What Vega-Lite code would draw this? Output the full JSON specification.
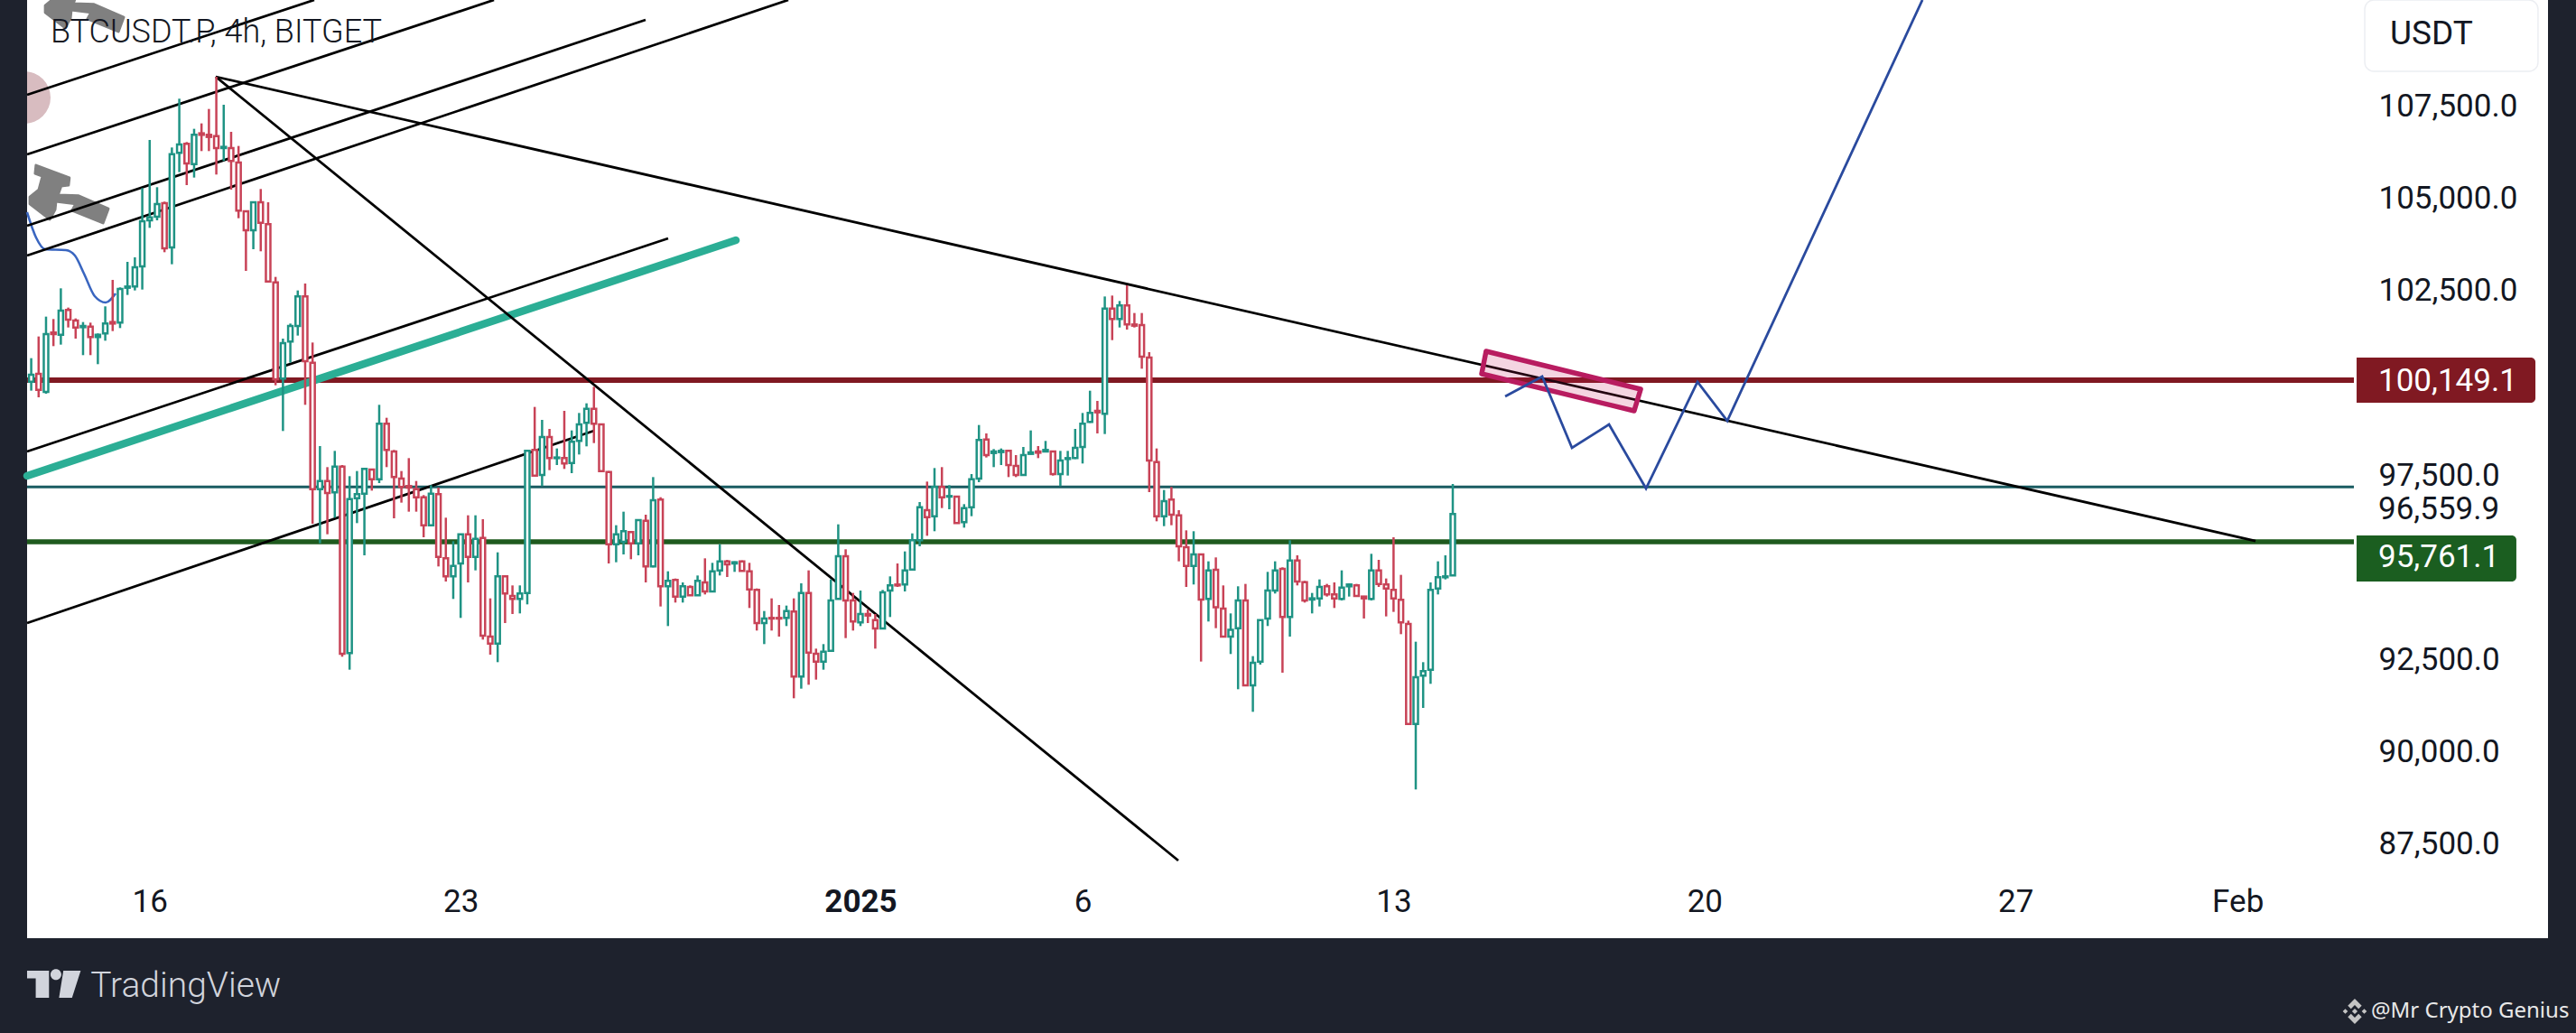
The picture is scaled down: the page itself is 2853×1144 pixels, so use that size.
{
  "$schema": "https://vega.github.io/schema/vega-lite/v6.json",
  "description": "BTCUSDT.P 4h candles with drawn trend lines",
  "width": 2792,
  "height": 1039,
  "autosize": {"type": "none"},
  "padding": {"left": 30, "top": 0, "right": 31, "bottom": 105},
  "background": "#1e222d",
  "view": {"fill": "#ffffff", "stroke": null},
  "datasets": {
    "candles": [
      {"t":"2024-12-13T08:00Z","o":99994,"h":100630,"l":99749,"c":100181},
      {"t":"2024-12-13T12:00Z","o":100206,"h":101218,"l":99569,"c":99773},
      {"t":"2024-12-13T16:00Z","o":99716,"h":101756,"l":99667,"c":101283},
      {"t":"2024-12-13T20:00Z","o":101324,"h":101691,"l":100956,"c":101283},
      {"t":"2024-12-14T00:00Z","o":101266,"h":102523,"l":100997,"c":101919},
      {"t":"2024-12-14T04:00Z","o":101936,"h":102001,"l":101462,"c":101674},
      {"t":"2024-12-14T08:00Z","o":101650,"h":101707,"l":101160,"c":101462},
      {"t":"2024-12-14T12:00Z","o":101470,"h":101609,"l":100712,"c":101503},
      {"t":"2024-12-14T16:00Z","o":101487,"h":101593,"l":100712,"c":101201},
      {"t":"2024-12-14T20:00Z","o":101201,"h":101299,"l":100467,"c":101266},
      {"t":"2024-12-15T00:00Z","o":101299,"h":102034,"l":101103,"c":101568},
      {"t":"2024-12-15T04:00Z","o":101609,"h":102752,"l":101364,"c":101568},
      {"t":"2024-12-15T08:00Z","o":101593,"h":102548,"l":101446,"c":102507},
      {"t":"2024-12-15T12:00Z","o":102539,"h":103241,"l":102344,"c":102572},
      {"t":"2024-12-15T16:00Z","o":102572,"h":103364,"l":102466,"c":103094},
      {"t":"2024-12-15T20:00Z","o":103119,"h":105240,"l":102490,"c":104343},
      {"t":"2024-12-16T00:00Z","o":104367,"h":106546,"l":104163,"c":104449},
      {"t":"2024-12-16T04:00Z","o":104465,"h":105265,"l":104367,"c":104808},
      {"t":"2024-12-16T08:00Z","o":104832,"h":104873,"l":103502,"c":103608},
      {"t":"2024-12-16T12:00Z","o":103633,"h":106342,"l":103176,"c":106162},
      {"t":"2024-12-16T16:00Z","o":106195,"h":107664,"l":105673,"c":106424},
      {"t":"2024-12-16T20:00Z","o":106440,"h":106489,"l":105322,"c":105910},
      {"t":"2024-12-17T00:00Z","o":105893,"h":106848,"l":105526,"c":106685},
      {"t":"2024-12-17T04:00Z","o":106726,"h":106995,"l":106244,"c":106685},
      {"t":"2024-12-17T08:00Z","o":106685,"h":107386,"l":106244,"c":106628},
      {"t":"2024-12-17T12:00Z","o":106652,"h":108260,"l":105608,"c":106326},
      {"t":"2024-12-17T16:00Z","o":106326,"h":107501,"l":105975,"c":106358},
      {"t":"2024-12-17T20:00Z","o":106326,"h":106766,"l":105200,"c":105975},
      {"t":"2024-12-18T00:00Z","o":105934,"h":106383,"l":104424,"c":104628},
      {"t":"2024-12-18T04:00Z","o":104612,"h":104628,"l":102996,"c":104098},
      {"t":"2024-12-18T08:00Z","o":104098,"h":104873,"l":103584,"c":104857},
      {"t":"2024-12-18T12:00Z","o":104857,"h":105216,"l":103527,"c":104302},
      {"t":"2024-12-18T16:00Z","o":104261,"h":104857,"l":102711,"c":102711},
      {"t":"2024-12-18T20:00Z","o":102686,"h":102833,"l":99895,"c":100059},
      {"t":"2024-12-19T00:00Z","o":100075,"h":101160,"l":98655,"c":101038},
      {"t":"2024-12-19T04:00Z","o":101079,"h":101568,"l":100508,"c":101503},
      {"t":"2024-12-19T08:00Z","o":101503,"h":102466,"l":101242,"c":102303},
      {"t":"2024-12-19T12:00Z","o":102303,"h":102654,"l":99365,"c":100548},
      {"t":"2024-12-19T16:00Z","o":100507,"h":101054,"l":96142,"c":97080},
      {"t":"2024-12-19T20:00Z","o":97080,"h":98247,"l":95611,"c":97300},
      {"t":"2024-12-20T00:00Z","o":97300,"h":97676,"l":95856,"c":96974},
      {"t":"2024-12-20T04:00Z","o":96990,"h":98116,"l":96305,"c":97692},
      {"t":"2024-12-20T08:00Z","o":97692,"h":97733,"l":92535,"c":92616},
      {"t":"2024-12-20T12:00Z","o":92633,"h":97431,"l":92184,"c":96811},
      {"t":"2024-12-20T16:00Z","o":96835,"h":97570,"l":96158,"c":96941},
      {"t":"2024-12-20T20:00Z","o":96958,"h":97651,"l":95285,"c":97627},
      {"t":"2024-12-21T00:00Z","o":97610,"h":97627,"l":97039,"c":97349},
      {"t":"2024-12-21T04:00Z","o":97349,"h":99365,"l":97243,"c":98851},
      {"t":"2024-12-21T08:00Z","o":98851,"h":99014,"l":97676,"c":98141},
      {"t":"2024-12-21T12:00Z","o":98100,"h":98141,"l":96288,"c":97406},
      {"t":"2024-12-21T16:00Z","o":97366,"h":97570,"l":96713,"c":97137},
      {"t":"2024-12-21T20:00Z","o":97162,"h":97920,"l":96468,"c":97121},
      {"t":"2024-12-22T00:00Z","o":97080,"h":97300,"l":96468,"c":96860},
      {"t":"2024-12-22T04:00Z","o":96860,"h":96917,"l":95774,"c":96101},
      {"t":"2024-12-22T08:00Z","o":96101,"h":97186,"l":96101,"c":96958},
      {"t":"2024-12-22T12:00Z","o":96941,"h":97121,"l":94983,"c":95244},
      {"t":"2024-12-22T16:00Z","o":95203,"h":96305,"l":94575,"c":94714},
      {"t":"2024-12-22T20:00Z","o":94714,"h":95668,"l":94102,"c":94999},
      {"t":"2024-12-23T00:00Z","o":95064,"h":95856,"l":93588,"c":95856},
      {"t":"2024-12-23T04:00Z","o":95856,"h":96370,"l":94550,"c":95244},
      {"t":"2024-12-23T08:00Z","o":95244,"h":96370,"l":94877,"c":95734},
      {"t":"2024-12-23T12:00Z","o":95758,"h":96264,"l":93000,"c":93106},
      {"t":"2024-12-23T16:00Z","o":93082,"h":94118,"l":92592,"c":92894},
      {"t":"2024-12-23T20:00Z","o":92894,"h":95366,"l":92388,"c":94714},
      {"t":"2024-12-24T00:00Z","o":94714,"h":94714,"l":93449,"c":94248},
      {"t":"2024-12-24T04:00Z","o":94183,"h":94469,"l":93694,"c":94102},
      {"t":"2024-12-24T08:00Z","o":94102,"h":94469,"l":93710,"c":94248},
      {"t":"2024-12-24T12:00Z","o":94265,"h":98141,"l":93955,"c":98116},
      {"t":"2024-12-24T16:00Z","o":98141,"h":99308,"l":97447,"c":97447},
      {"t":"2024-12-24T20:00Z","o":97464,"h":98957,"l":97162,"c":98492},
      {"t":"2024-12-25T00:00Z","o":98492,"h":98712,"l":97594,"c":97920},
      {"t":"2024-12-25T04:00Z","o":97920,"h":98182,"l":97733,"c":97937},
      {"t":"2024-12-25T08:00Z","o":97920,"h":99202,"l":97627,"c":97774},
      {"t":"2024-12-25T12:00Z","o":97790,"h":98671,"l":97512,"c":98361},
      {"t":"2024-12-25T16:00Z","o":98386,"h":99144,"l":98018,"c":98834},
      {"t":"2024-12-25T20:00Z","o":98875,"h":99406,"l":98239,"c":99259},
      {"t":"2024-12-26T00:00Z","o":99259,"h":99854,"l":98328,"c":98851},
      {"t":"2024-12-26T04:00Z","o":98834,"h":98834,"l":97570,"c":97570},
      {"t":"2024-12-26T08:00Z","o":97545,"h":97570,"l":95064,"c":95587},
      {"t":"2024-12-26T12:00Z","o":95587,"h":96101,"l":95097,"c":95856},
      {"t":"2024-12-26T16:00Z","o":95652,"h":96468,"l":95309,"c":95938},
      {"t":"2024-12-26T20:00Z","o":95913,"h":95938,"l":95179,"c":95611},
      {"t":"2024-12-27T00:00Z","o":95611,"h":96264,"l":95285,"c":96240},
      {"t":"2024-12-27T04:00Z","o":96223,"h":96386,"l":94550,"c":94983},
      {"t":"2024-12-27T08:00Z","o":94983,"h":97406,"l":94958,"c":96778},
      {"t":"2024-12-27T12:00Z","o":96794,"h":96860,"l":93898,"c":94444},
      {"t":"2024-12-27T16:00Z","o":94444,"h":94852,"l":93367,"c":94591},
      {"t":"2024-12-27T20:00Z","o":94616,"h":94656,"l":94004,"c":94167},
      {"t":"2024-12-28T00:00Z","o":94167,"h":94550,"l":94004,"c":94444},
      {"t":"2024-12-28T04:00Z","o":94428,"h":94469,"l":94183,"c":94200},
      {"t":"2024-12-28T08:00Z","o":94200,"h":94738,"l":94183,"c":94591},
      {"t":"2024-12-28T12:00Z","o":94550,"h":95203,"l":94224,"c":94306},
      {"t":"2024-12-28T16:00Z","o":94306,"h":95081,"l":94281,"c":94852},
      {"t":"2024-12-28T20:00Z","o":94877,"h":95587,"l":94738,"c":95122},
      {"t":"2024-12-29T00:00Z","o":95122,"h":95162,"l":94697,"c":95040},
      {"t":"2024-12-29T04:00Z","o":95064,"h":95122,"l":94836,"c":95097},
      {"t":"2024-12-29T08:00Z","o":95122,"h":95146,"l":94852,"c":94860},
      {"t":"2024-12-29T12:00Z","o":94852,"h":95081,"l":93857,"c":94363},
      {"t":"2024-12-29T16:00Z","o":94346,"h":94387,"l":93245,"c":93449},
      {"t":"2024-12-29T20:00Z","o":93449,"h":93775,"l":92878,"c":93571},
      {"t":"2024-12-30T00:00Z","o":93588,"h":94118,"l":93245,"c":93571},
      {"t":"2024-12-30T04:00Z","o":93588,"h":93938,"l":93082,"c":93571},
      {"t":"2024-12-30T08:00Z","o":93588,"h":93922,"l":93367,"c":93775},
      {"t":"2024-12-30T12:00Z","o":93759,"h":94118,"l":91409,"c":91996},
      {"t":"2024-12-30T16:00Z","o":91996,"h":94526,"l":91670,"c":94265},
      {"t":"2024-12-30T20:00Z","o":94265,"h":94877,"l":91776,"c":92649},
      {"t":"2024-12-31T00:00Z","o":92616,"h":92755,"l":91915,"c":92404},
      {"t":"2024-12-31T04:00Z","o":92404,"h":92878,"l":92184,"c":92673},
      {"t":"2024-12-31T08:00Z","o":92698,"h":94632,"l":92673,"c":94061},
      {"t":"2024-12-31T12:00Z","o":94102,"h":96125,"l":94085,"c":95260},
      {"t":"2024-12-31T16:00Z","o":95260,"h":95448,"l":93041,"c":94061},
      {"t":"2024-12-31T20:00Z","o":94061,"h":94265,"l":93245,"c":93490},
      {"t":"2025-01-01T00:00Z","o":93465,"h":94330,"l":93367,"c":93694},
      {"t":"2025-01-01T04:00Z","o":93694,"h":93816,"l":93449,"c":93653},
      {"t":"2025-01-01T08:00Z","o":93530,"h":93694,"l":92755,"c":93302},
      {"t":"2025-01-01T12:00Z","o":93302,"h":94346,"l":93302,"c":94281},
      {"t":"2025-01-01T16:00Z","o":94330,"h":94714,"l":93612,"c":94469},
      {"t":"2025-01-01T20:00Z","o":94493,"h":95064,"l":94428,"c":94469},
      {"t":"2025-01-02T00:00Z","o":94493,"h":95391,"l":94306,"c":94877},
      {"t":"2025-01-02T04:00Z","o":94901,"h":95880,"l":94901,"c":95693},
      {"t":"2025-01-02T08:00Z","o":95693,"h":96729,"l":95530,"c":96590},
      {"t":"2025-01-02T12:00Z","o":96509,"h":97284,"l":95815,"c":96321},
      {"t":"2025-01-02T16:00Z","o":96346,"h":97651,"l":95938,"c":97137},
      {"t":"2025-01-02T20:00Z","o":97137,"h":97676,"l":96566,"c":96860},
      {"t":"2025-01-03T00:00Z","o":96876,"h":97186,"l":96533,"c":96892},
      {"t":"2025-01-03T04:00Z","o":96876,"h":96892,"l":96142,"c":96158},
      {"t":"2025-01-03T08:00Z","o":96182,"h":96672,"l":96035,"c":96566},
      {"t":"2025-01-03T12:00Z","o":96590,"h":97488,"l":96346,"c":97349},
      {"t":"2025-01-03T16:00Z","o":97366,"h":98818,"l":97268,"c":98410},
      {"t":"2025-01-03T20:00Z","o":98426,"h":98590,"l":97937,"c":98002},
      {"t":"2025-01-04T00:00Z","o":98059,"h":98165,"l":97676,"c":98100},
      {"t":"2025-01-04T04:00Z","o":98084,"h":98182,"l":97733,"c":98116},
      {"t":"2025-01-04T08:00Z","o":98116,"h":98141,"l":97406,"c":97733},
      {"t":"2025-01-04T12:00Z","o":97708,"h":98002,"l":97406,"c":97464},
      {"t":"2025-01-04T16:00Z","o":97464,"h":98222,"l":97447,"c":98002},
      {"t":"2025-01-04T20:00Z","o":98035,"h":98671,"l":98018,"c":98075},
      {"t":"2025-01-05T00:00Z","o":98100,"h":98247,"l":97920,"c":98067},
      {"t":"2025-01-05T04:00Z","o":98100,"h":98386,"l":98100,"c":98141},
      {"t":"2025-01-05T08:00Z","o":98100,"h":98116,"l":97447,"c":97488},
      {"t":"2025-01-05T12:00Z","o":97488,"h":98116,"l":97162,"c":97855},
      {"t":"2025-01-05T16:00Z","o":97896,"h":98116,"l":97447,"c":97920},
      {"t":"2025-01-05T20:00Z","o":97920,"h":98712,"l":97896,"c":98198},
      {"t":"2025-01-06T00:00Z","o":98222,"h":99144,"l":97774,"c":98851},
      {"t":"2025-01-06T04:00Z","o":98900,"h":99748,"l":98875,"c":99144},
      {"t":"2025-01-06T08:00Z","o":99202,"h":99471,"l":98590,"c":99161},
      {"t":"2025-01-06T12:00Z","o":99120,"h":102302,"l":98573,"c":101976},
      {"t":"2025-01-06T16:00Z","o":101976,"h":102327,"l":101119,"c":101690},
      {"t":"2025-01-06T20:00Z","o":101690,"h":102180,"l":101462,"c":102058},
      {"t":"2025-01-07T00:00Z","o":102058,"h":102604,"l":101405,"c":101543},
      {"t":"2025-01-07T04:00Z","o":101543,"h":101854,"l":101462,"c":101511},
      {"t":"2025-01-07T08:00Z","o":101527,"h":101854,"l":100344,"c":100670},
      {"t":"2025-01-07T12:00Z","o":100646,"h":100793,"l":96998,"c":97855},
      {"t":"2025-01-07T16:00Z","o":97814,"h":98182,"l":96207,"c":96346},
      {"t":"2025-01-07T20:00Z","o":96346,"h":97056,"l":96076,"c":96754},
      {"t":"2025-01-08T00:00Z","o":96795,"h":97138,"l":96101,"c":96387},
      {"t":"2025-01-08T04:00Z","o":96370,"h":96509,"l":95122,"c":95530},
      {"t":"2025-01-08T08:00Z","o":95506,"h":95962,"l":94428,"c":95000},
      {"t":"2025-01-08T12:00Z","o":95000,"h":95938,"l":94494,"c":95310},
      {"t":"2025-01-08T16:00Z","o":95310,"h":95326,"l":92405,"c":94086},
      {"t":"2025-01-08T20:00Z","o":94102,"h":95122,"l":93490,"c":94877},
      {"t":"2025-01-09T00:00Z","o":94893,"h":95228,"l":93310,"c":93874},
      {"t":"2025-01-09T04:00Z","o":93841,"h":94469,"l":93082,"c":93082},
      {"t":"2025-01-09T08:00Z","o":93082,"h":93710,"l":92609,"c":93262},
      {"t":"2025-01-09T12:00Z","o":93310,"h":94445,"l":91654,"c":94061},
      {"t":"2025-01-09T16:00Z","o":94061,"h":94510,"l":91760,"c":91760},
      {"t":"2025-01-09T20:00Z","o":91760,"h":92552,"l":91042,"c":92372},
      {"t":"2025-01-10T00:00Z","o":92405,"h":93547,"l":92323,"c":93531},
      {"t":"2025-01-10T04:00Z","o":93572,"h":94836,"l":93368,"c":94330},
      {"t":"2025-01-10T08:00Z","o":94330,"h":95122,"l":94249,"c":94877},
      {"t":"2025-01-10T12:00Z","o":94918,"h":94959,"l":92103,"c":93612},
      {"t":"2025-01-10T16:00Z","o":93612,"h":95693,"l":93082,"c":95146},
      {"t":"2025-01-10T20:00Z","o":95146,"h":95285,"l":94469,"c":94575},
      {"t":"2025-01-11T00:00Z","o":94559,"h":94592,"l":94004,"c":94061},
      {"t":"2025-01-11T04:00Z","o":94086,"h":94265,"l":93710,"c":94118},
      {"t":"2025-01-11T08:00Z","o":94118,"h":94632,"l":93898,"c":94428},
      {"t":"2025-01-11T12:00Z","o":94445,"h":94510,"l":94167,"c":94224},
      {"t":"2025-01-11T16:00Z","o":94224,"h":94551,"l":93857,"c":94118},
      {"t":"2025-01-11T20:00Z","o":94102,"h":94877,"l":94061,"c":94412},
      {"t":"2025-01-12T00:00Z","o":94445,"h":94526,"l":94167,"c":94494},
      {"t":"2025-01-12T04:00Z","o":94469,"h":94510,"l":94167,"c":94184},
      {"t":"2025-01-12T08:00Z","o":94167,"h":94184,"l":93572,"c":94118},
      {"t":"2025-01-12T12:00Z","o":94102,"h":95326,"l":94061,"c":94877},
      {"t":"2025-01-12T16:00Z","o":94877,"h":95163,"l":94428,"c":94510},
      {"t":"2025-01-12T20:00Z","o":94494,"h":94657,"l":93629,"c":94388},
      {"t":"2025-01-13T00:00Z","o":94347,"h":95775,"l":93751,"c":94118},
      {"t":"2025-01-13T04:00Z","o":94077,"h":94755,"l":93147,"c":93465},
      {"t":"2025-01-13T08:00Z","o":93425,"h":93514,"l":90716,"c":90716},
      {"t":"2025-01-13T12:00Z","o":90716,"h":92943,"l":88937,"c":91980},
      {"t":"2025-01-13T16:00Z","o":92021,"h":92388,"l":91148,"c":92144},
      {"t":"2025-01-13T20:00Z","o":92184,"h":94551,"l":91801,"c":94347},
      {"t":"2025-01-14T00:00Z","o":94388,"h":95122,"l":94224,"c":94690},
      {"t":"2025-01-14T04:00Z","o":94690,"h":95285,"l":94632,"c":94714},
      {"t":"2025-01-14T08:00Z","o":94738,"h":97219,"l":94738,"c":96403}
    ]
  },
  "encoding": {
    "x": {
      "field": "t",
      "type": "temporal",
      "scale": {"type": "utc", "nice": false, "padding": 0, "domain": ["2024-12-13T05:46:00Z", "2025-02-07T23:42:00Z"]},
      "axis": {
        "orient": "bottom",
        "title": null,
        "domain": false,
        "ticks": false,
        "grid": false,
        "values": [
          {"year": 2024, "month": 12, "date": 16, "utc": true},
          {"year": 2024, "month": 12, "date": 23, "utc": true},
          {"year": 2025, "month": 1, "date": 1, "utc": true},
          {"year": 2025, "month": 1, "date": 6, "utc": true},
          {"year": 2025, "month": 1, "date": 13, "utc": true},
          {"year": 2025, "month": 1, "date": 20, "utc": true},
          {"year": 2025, "month": 1, "date": 27, "utc": true},
          {"year": 2025, "month": 2, "date": 1, "utc": true}
        ],
        "labelExpr": "utcmonth(datum.value)==0&&utcdate(datum.value)==1?'2025':utcmonth(datum.value)==1?'Feb':''+utcdate(datum.value)",
        "labelFontWeight": {"condition": {"test": "utcmonth(datum.value)==0&&utcdate(datum.value)==1", "value": "bold"}, "value": "normal"},
        "labelPadding": -41,
        "labelBaseline": "middle",
        "labelFont": "Roboto",
        "labelFontSize": 35,
        "labelColor": "#131722",
        "labelFlush": false,
        "labelOverlap": false,
        "labelBound": false
      }
    },
    "y": {
      "field": "p",
      "type": "quantitative",
      "scale": {"domain": [84905, 110340], "nice": false, "zero": false},
      "axis": {
        "orient": "right",
        "title": null,
        "domain": false,
        "ticks": false,
        "grid": false,
        "values": [87500, 90000, 92500, 97500, 102500, 105000, 107500],
        "format": ",.1f",
        "labelAlign": "left",
        "labelBaseline": "middle",
        "labelPadding": -188,
        "labelOffset": 1.5,
        "labelFont": "Roboto",
        "labelFontSize": 35,
        "labelColor": "#131722",
        "labelOverlap": false,
        "labelBound": false,
        "labelFlush": false
      }
    }
  },
  "layer": [
    {
      "data": {"values": [{"t": "2024-12-13T04:18Z", "p": 107696}]},
      "mark": {"type": "point", "shape": "circle", "filled": true, "size": 3364, "color": "#d8bcc0", "opacity": 1, "clip": true}
    },
    {
      "data": {"values": [{"t": "2024-12-14T03:42Z", "p": 105077}, {"t": "2024-12-14T12:00Z", "p": 110267}]},
      "mark": {
        "type": "point",
        "shape": "M-.78,-.71L.04,-.4L.02,-.22L-.16,-.2L-.24,.02L.27,.04L1,.36L.87,.71L.11,.4L.2,.24L-.29,.18L-.31,.38L-.44,.62L-.93,.24L-.93,.07L-.71,-.11L-.62,-.44L-.8,-.51Z",
        "filled": true,
        "size": 8100,
        "color": "#808080",
        "stroke": "#808080",
        "strokeWidth": 3,
        "strokeJoin": "round",
        "opacity": 1,
        "clip": true
      }
    },
    {
      "data": {"values": [
        {"t": "2024-12-13T05:46Z", "p": 104587},
        {"t": "2024-12-13T10:36Z", "p": 103902},
        {"t": "2024-12-13T15:30Z", "p": 103584},
        {"t": "2024-12-14T02:42Z", "p": 103559},
        {"t": "2024-12-14T07:36Z", "p": 103412},
        {"t": "2024-12-14T12:30Z", "p": 102923},
        {"t": "2024-12-14T18:18Z", "p": 102311},
        {"t": "2024-12-15T00:12Z", "p": 102139},
        {"t": "2024-12-15T05:36Z", "p": 102384}
      ]},
      "mark": {"type": "line", "interpolate": "monotone", "color": "#3a66c0", "strokeWidth": 2.6}
    },
    {
      "data": {"values": [
        {"name": "red", "t": "2024-12-13T05:46Z", "p": 100034},
        {"name": "red", "t": "2025-02-03T14:50Z", "p": 100034},
        {"name": "teal", "t": "2024-12-13T05:46Z", "p": 97138},
        {"name": "teal", "t": "2025-02-03T14:50Z", "p": 97138},
        {"name": "green", "t": "2024-12-13T05:46Z", "p": 95652},
        {"name": "green", "t": "2025-02-03T14:50Z", "p": 95652}
      ]},
      "mark": {"type": "line"},
      "encoding": {
        "color": {"field": "name", "type": "nominal", "legend": null, "scale": {"domain": ["red", "teal", "green"], "range": ["#801922", "#1a5c62", "#1f5a1e"]}},
        "strokeWidth": {"field": "name", "type": "nominal", "legend": null, "scale": {"type": "ordinal", "domain": ["red", "teal", "green"], "range": [6, 3, 5.5]}}
      }
    },
    {
      "data": {"values": [
        {"t": "2024-12-13T05:46Z", "p": 97439},
        {"t": "2024-12-29T04:42Z", "p": 103828}
      ]},
      "mark": {"type": "line", "color": "#2bae95", "strokeWidth": 8.5, "strokeCap": "round"}
    },
    {
      "data": {"values": [
        {"id": "a", "t": "2024-12-13T05:46Z", "p": 107770},
        {"id": "a", "t": "2024-12-19T16:54Z", "p": 110340},
        {"id": "b", "t": "2024-12-13T05:46Z", "p": 106154},
        {"id": "b", "t": "2024-12-23T18:00Z", "p": 110340},
        {"id": "c", "t": "2024-12-13T05:46Z", "p": 104220},
        {"id": "c", "t": "2024-12-27T03:54Z", "p": 109801},
        {"id": "d", "t": "2024-12-13T05:46Z", "p": 103412},
        {"id": "d", "t": "2024-12-30T09:00Z", "p": 110340},
        {"id": "e", "t": "2024-12-13T05:46Z", "p": 98100},
        {"id": "e", "t": "2024-12-27T16:06Z", "p": 103877},
        {"id": "f", "t": "2024-12-13T05:46Z", "p": 93449},
        {"id": "f", "t": "2024-12-26T00:06Z", "p": 98663},
        {"id": "g", "t": "2024-12-17T11:42Z", "p": 108259},
        {"id": "g", "t": "2025-02-01T09:42Z", "p": 95676},
        {"id": "h", "t": "2024-12-17T11:42Z", "p": 108259},
        {"id": "h", "t": "2025-01-08T03:42Z", "p": 87011}
      ]},
      "mark": {"type": "line", "color": "#000000", "strokeWidth": 2.8},
      "encoding": {"detail": {"field": "id"}}
    },
    {
      "data": {"name": "candles"},
      "mark": {"type": "rule", "strokeWidth": 2.5},
      "encoding": {
        "y": {"field": "h", "type": "quantitative", "title": null, "scale": {"domain": [84905, 110340], "nice": false, "zero": false}},
        "y2": {"field": "l"},
        "stroke": {"condition": {"test": "datum.c>=datum.o", "value": "#1f9384"}, "value": "#c84357"}
      }
    },
    {
      "data": {"name": "candles"},
      "mark": {"type": "bar", "size": 5, "fill": "#ffffff", "strokeWidth": 2.5},
      "encoding": {
        "y": {"field": "o", "type": "quantitative", "title": null, "scale": {"domain": [84905, 110340], "nice": false, "zero": false}},
        "y2": {"field": "c"},
        "stroke": {"condition": {"test": "datum.c>=datum.o", "value": "#1f9384"}, "value": "#c84357"}
      }
    },
    {
      "data": {"values": [
        {"t": "2025-01-15T00:48Z", "p": 100511},
        {"t": "2025-01-18T11:48Z", "p": 99495}
      ]},
      "mark": {"type": "line", "color": "#c2185b", "opacity": 0.18, "strokeWidth": 25}
    },
    {
      "data": {"values": [
        {"i": 0, "t": "2025-01-15T02:00Z", "p": 100817},
        {"i": 1, "t": "2025-01-18T13:30Z", "p": 99789},
        {"i": 2, "t": "2025-01-18T10:00Z", "p": 99201},
        {"i": 3, "t": "2025-01-14T23:36Z", "p": 100205},
        {"i": 4, "t": "2025-01-15T02:00Z", "p": 100817}
      ]},
      "mark": {"type": "line", "color": "#b81c60", "strokeWidth": 5.5, "strokeJoin": "round", "strokeCap": "round"},
      "encoding": {"order": {"field": "i"}}
    },
    {
      "data": {"values": [
        {"t": "2025-01-15T12:18Z", "p": 99593},
        {"t": "2025-01-16T08:18Z", "p": 100132},
        {"t": "2025-01-17T00:24Z", "p": 98198},
        {"t": "2025-01-17T20:24Z", "p": 98834},
        {"t": "2025-01-18T16:24Z", "p": 97096},
        {"t": "2025-01-19T20:12Z", "p": 99985},
        {"t": "2025-01-20T12:18Z", "p": 98932},
        {"t": "2025-01-24T21:42Z", "p": 110340}
      ]},
      "mark": {"type": "line", "color": "#2a4a9e", "strokeWidth": 2.8}
    },
    {
      "data": {"values": [
        {"name": "red", "t": "2025-02-03T16:18Z", "t1": "2025-02-07T16:54Z", "p": 100646, "p1": 99422},
        {"name": "green", "t": "2025-02-03T16:18Z", "t1": "2025-02-07T06:36Z", "p": 95823, "p1": 94575}
      ]},
      "mark": {"type": "bar", "cornerRadiusTopRight": 5, "cornerRadiusBottomRight": 5},
      "encoding": {
        "x2": {"field": "t1"},
        "y2": {"field": "p1"},
        "fill": {"field": "name", "type": "nominal", "legend": null, "scale": {"domain": ["red", "green"], "range": ["#801922", "#1b5e20"]}}
      }
    },
    {
      "data": {"values": [{"t": "2025-02-03T20:42Z", "t1": "2025-02-07T18:18Z", "p": 110340, "p1": 108406}]},
      "mark": {"type": "bar", "fill": "#ffffff", "stroke": "#eceef2", "strokeWidth": 1.5, "cornerRadius": 10},
      "encoding": {"x2": {"field": "t1"}, "y2": {"field": "p1"}}
    },
    {
      "data": {"values": [
        {"label": "100,149.1", "t": "2025-02-04T04:00Z", "p": 100000},
        {"label": "95,761.1", "t": "2025-02-04T04:00Z", "p": 95226}
      ]},
      "mark": {"type": "text", "align": "left", "baseline": "middle", "font": "Roboto", "fontSize": 35, "color": "#ffffff"},
      "encoding": {"text": {"field": "label"}}
    },
    {
      "data": {"values": [{"label": "96,559.9", "t": "2025-02-04T04:00Z", "p": 96526}]},
      "mark": {"type": "text", "align": "left", "baseline": "middle", "font": "Roboto", "fontSize": 35, "color": "#131722"},
      "encoding": {"text": {"field": "label"}}
    },
    {
      "data": {"values": [{"label": "USDT", "t": "2025-02-04T10:18Z", "p": 109410}]},
      "mark": {"type": "text", "align": "left", "baseline": "middle", "font": "Roboto", "fontSize": 37, "color": "#131722"},
      "encoding": {"text": {"field": "label"}}
    },
    {
      "data": {"values": [{"label": "BTCUSDT.P, 4h, BITGET", "t": "2024-12-13T18:24Z", "p": 109459}]},
      "mark": {"type": "text", "align": "left", "baseline": "middle", "font": "Roboto", "fontSize": 36, "fontWeight": 300, "color": "#131722"},
      "encoding": {"text": {"field": "label"}}
    },
    {
      "data": {"values": [{"t": "2024-12-13T20:06Z", "p": 83657}]},
      "mark": {
        "type": "point",
        "shape": "M-.98,-.5H-.17V.5H-.66V-.22H-.98ZM-.115,-.36a.2,.2 0 1,0 .4,0a.2,.2 0 1,0 -.4,0ZM.36,-.5H1L.68,.5H.2Z",
        "filled": true,
        "size": 3600,
        "color": "#d1d4dc",
        "opacity": 1
      }
    },
    {
      "data": {"values": [{"label": "TradingView", "t": "2024-12-14T16:00Z", "p": 83608}]},
      "mark": {"type": "text", "align": "left", "baseline": "middle", "font": "Roboto", "fontSize": 39, "fontWeight": 300, "color": "#d1d4dc"},
      "encoding": {"text": {"field": "label"}}
    },
    {
      "data": {"values": [{"t": "2025-02-03T15:18Z", "p": 82922}]},
      "mark": {
        "type": "point",
        "shape": "M0,-1L.55,-.45L.3,-.2L0,-.5L-.3,-.2L-.55,-.45ZM0,1L.55,.45L.3,.2L0,.5L-.3,.2L-.55,.45ZM0,-.22L.22,0L0,.22L-.22,0ZM-.75,-.2L-.55,0L-.75,.2L-.95,0ZM.75,-.2L.95,0L.75,.2L.55,0Z",
        "filled": true,
        "size": 784,
        "color": "#c4c4c4",
        "opacity": 1
      }
    },
    {
      "data": {"values": [{"label": "@Mr Crypto Genius", "t": "2025-02-04T00:06Z", "p": 82922}]},
      "mark": {"type": "text", "align": "left", "baseline": "middle", "font": "Noto Sans", "fontSize": 24, "color": "#e8e8e8"},
      "encoding": {"text": {"field": "label"}}
    }
  ]
}
